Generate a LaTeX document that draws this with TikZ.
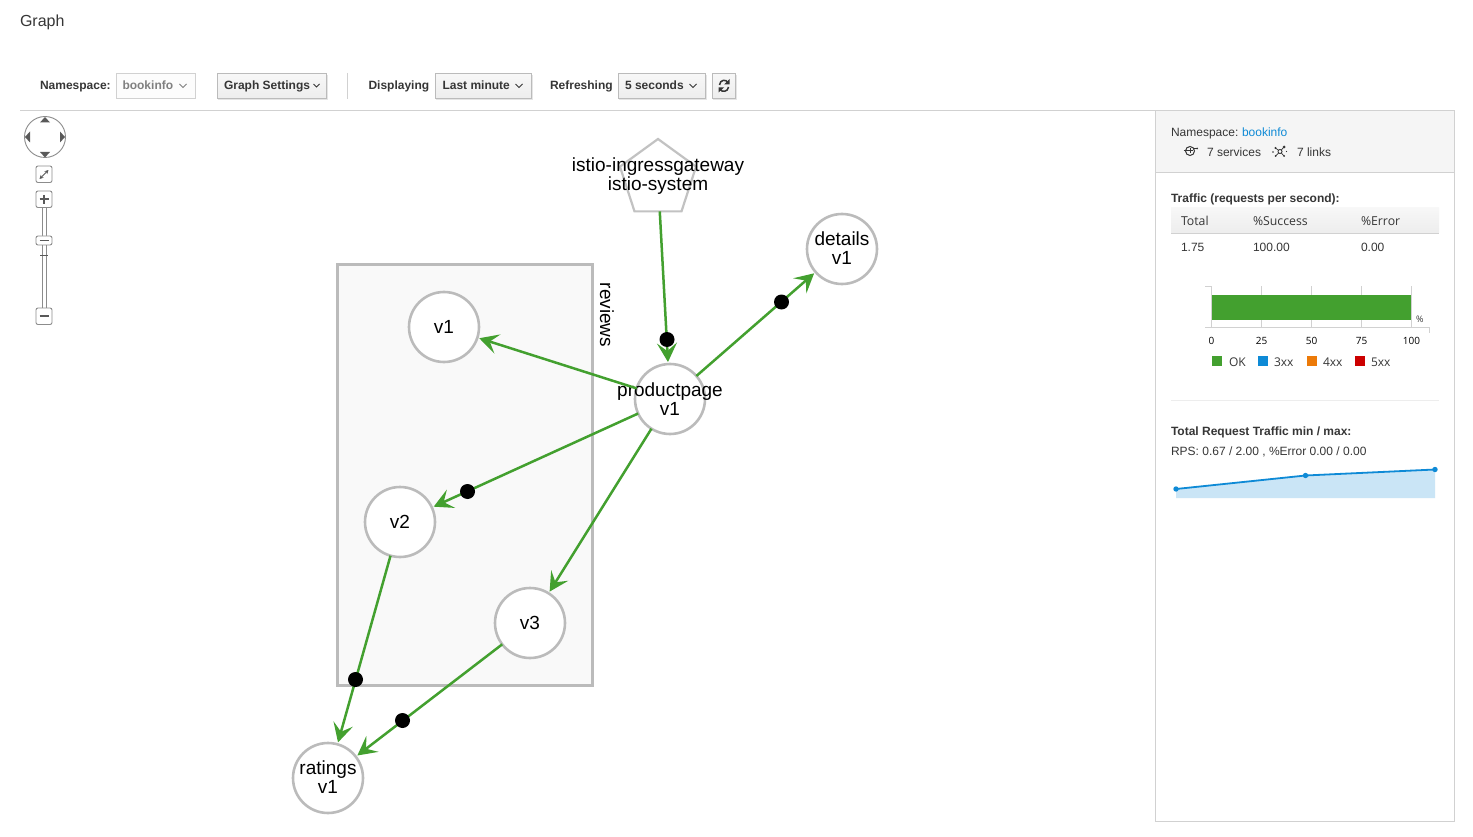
\documentclass[tikz,border=0pt]{standalone}
\usepackage{fontspec}
\setmainfont{Liberation Sans}
\newfontfamily\opensans{Open Sans}
\usetikzlibrary{shapes.geometric,arrows.meta,calc}
\definecolor{edgegreen}{HTML}{43A02F}
\definecolor{barblue}{HTML}{0E8AD6}
\definecolor{lineg}{HTML}{D1D1D1}
\definecolor{nodeg}{HTML}{BBBBBB}
\definecolor{txt}{HTML}{363636}
\definecolor{legorange}{HTML}{EC7A08}
\definecolor{legred}{HTML}{CC0000}
\tikzset{
  every node/.style={inner sep=0pt,outer sep=0pt},
  svc/.style={circle,draw=nodeg,fill=white,line width=2.6pt,minimum size=70pt},
  gatew/.style={regular polygon,regular polygon sides=5,draw=nodeg!90!white,fill=white,line width=2.2pt,minimum size=80pt},
  nlabel/.style={font=\fontsize{19}{19}\selectfont,align=center,text=black},
  flow/.style={draw=edgegreen,line width=2.5pt,shorten >=2pt,-{Stealth[length=19pt,width=20pt,inset=8pt]}},
  dot/.style={circle,fill=black,minimum size=15pt},
  groupbox/.style={rectangle,draw=nodeg,fill=black!2.5,line width=2.6pt,minimum width=255.5pt,minimum height=421.5pt},
  t/.style={anchor=base west,font=\fontsize{12}{14}\selectfont,text=txt},
  tb/.style={t,font=\fontsize{12}{14}\selectfont\bfseries},
  tos/.style={t,font=\fontsize{12.3}{14}\selectfont\opensans},
  tick/.style={anchor=base,font=\fontsize{10}{12}\selectfont\opensans,text=black},
  leg/.style={anchor=base west,font=\fontsize{12}{14}\selectfont\opensans,text=txt},
  btn/.style={draw=nodeg,line width=1pt,top color=white!97!black,bottom color=black!7},
  ctl/.style={draw=black!45,line width=0.9pt,rounded corners=2pt,fill=white},
  glyph/.style={draw=black!65,line width=1.6pt},
  chev/.style={draw=txt,line width=0.8pt}
}
\begin{document}
\begin{tikzpicture}[x=1pt,y=-1pt]
\useasboundingbox (0,0) rectangle (1473,837);
\fill[white] (0,0) rectangle (1473,837);

% title
\node[anchor=base west,font=\fontsize{16}{18}\selectfont,text=txt] (title) at (20,27) {Graph};

% toolbar
\node[tb] (nsl) at (40,90) {Namespace:};
\draw[draw=lineg,fill=black!1,line width=1pt] (116.5,73.5) rectangle (195.5,98.5);
\node[tb,text=black!50] (nsv) at (122.5,90) {bookinfo};
\draw[chev,draw=black!50] (179.5,84) -- (183,87.5) -- (186.5,84);

\fill[black!10] (218,75) rectangle (328,100.5);
\draw[btn] (217.5,73.5) rectangle (326.5,98.5);
\node[tb] (gs) at (224,90) {Graph Settings};
\draw[chev] (313.5,84) -- (316.5,87) -- (319.5,84);

\draw[lineg,line width=1pt] (347.5,73) -- (347.5,99);

\node[tb] (disp) at (368.5,90) {Displaying};
\fill[black!10] (436,75) rectangle (533,100.5);
\draw[btn] (435.5,73.5) rectangle (531.5,98.5);
\node[tb] (lm) at (442.5,90) {Last minute};
\draw[chev] (515.5,84) -- (519,87.5) -- (522.5,84);

\node[tb] (rf) at (550,90) {Refreshing};
\fill[black!10] (619,75) rectangle (707,100.5);
\draw[btn] (618.5,73.5) rectangle (705.5,98.5);
\node[tb] (fs) at (625,90) {5 seconds};
\draw[chev] (689.5,84) -- (693,87.5) -- (696.5,84);

\fill[black!10] (713,75) rectangle (737,100.5);
\draw[btn] (712.5,73.5) rectangle (735.5,98.5);
\draw[txt,line width=1.5pt] (719.5,85) .. controls (720,79.5) and (726,79) .. (728,82.5);
\fill[txt] (729.5,79) -- (729.5,84.5) -- (724,84.5) -- cycle;
\draw[txt,line width=1.5pt] (728.5,87) .. controls (728,92) and (722,92.5) .. (720,89.5);
\fill[txt] (718.5,92.5) -- (718.5,87.5) -- (724,87.5) -- cycle;

% separators
\draw[lineg,line width=1pt] (20,110.5) -- (1455,110.5);

% pan / zoom control
\draw[black!45,line width=0.9pt,fill=white] (45,137) circle[radius=20.5];
\fill[black!65] (45,117) -- (40,122.5) -- (50,122.5) -- cycle;
\fill[black!65] (45,157.5) -- (40,152) -- (50,152) -- cycle;
\fill[black!65] (25,137) -- (30,131.5) -- (30,142.5) -- cycle;
\fill[black!65] (65,137) -- (60,131.5) -- (60,142.5) -- cycle;

\draw[ctl] (36,166) rectangle (52,182.5);
\draw[glyph,line width=1pt,{Stealth[length=4pt,width=4pt]}-{Stealth[length=4pt,width=4pt]}] (39.5,179) -- (48.5,170);

\draw[black!45,line width=0.9pt] (42,207) -- (42,308) (46,207) -- (46,308);

\draw[ctl] (36,191) rectangle (52,207.5);
\draw[glyph] (39.5,199.2) -- (48.5,199.2) (44,194.8) -- (44,203.6);

\draw[ctl] (36,236) rectangle (52,245);
\draw[glyph] (39.5,240.5) -- (48.5,240.5);
\draw[glyph] (40,255.5) -- (48,255.5);

\draw[ctl] (36,308) rectangle (52,324.5);
\draw[glyph] (39.5,316) -- (48.5,316);

% graph
\node[groupbox] (reviews) at (465,475) {};
\node[anchor=center,rotate=-90,font=\fontsize{19}{19}\selectfont,text=black] (revl) at (607,315) {reviews};

\node[gatew,label={[nlabel,yshift=3pt]center:{istio-ingressgateway\\istio-system}}] (gate) at (658,179) {};
\node[svc,label={[nlabel]center:{productpage\\v1}}] (prod) at (670,399) {};
\node[svc,label={[nlabel,yshift=1pt]center:{details\\v1}}] (det) at (842,249) {};
\node[svc,label={[nlabel]center:{v1}}] (v1) at (444,327) {};
\node[svc,label={[nlabel]center:{v2}}] (v2) at (400,522) {};
\node[svc,label={[nlabel]center:{v3}}] (v3) at (530,623) {};
\node[svc,label={[nlabel,yshift=1pt]center:{ratings\\v1}}] (rat) at (328,778) {};

\draw[flow] (gate) -- (prod);
\draw[flow] (prod) -- (det);
\draw[flow] (prod) -- (v1);
\draw[flow] (prod) -- (v2);
\draw[flow] (prod) -- (v3);
\draw[flow] (v2) -- (rat);
\draw[flow] (v3) -- (rat);

\node[dot] (d1) at (667,339.5) {};
\node[dot] (d2) at (781.5,302) {};
\node[dot] (d3) at (467.5,491.5) {};
\node[dot] (d4) at (355.5,679.5) {};
\node[dot] (d5) at (402.5,720.5) {};

% side panel
\draw[lineg,line width=1pt,fill=white] (1155.5,111) rectangle (1454.5,821.5);
\draw[lineg,line width=1pt,fill=black!4] (1155.5,111) rectangle (1454.5,172.5);

\node[t] (pns) at (1171,136.5) {Namespace:};
\node[t,text=barblue] (pnb) at (1242,136.5) {bookinfo};
% services icon
\draw[txt,line width=1pt] (1190,151) circle[radius=4.5];
\draw[txt,line width=1pt] (1183.5,151) -- (1193,151) (1190,148.5) -- (1190,153.5) (1193.5,148.5) -- (1196.5,148.5);
\fill[txt] (1197,148.5) circle[radius=1];
\node[t] (psv) at (1207,156.5) {7 services};
% links icon
\draw[txt,line width=0.7pt] (1275.5,148) -- (1280,151.5) (1284,147) -- (1280,151.5) -- (1275.5,156) (1280,151.5) -- (1284,156);
\draw[txt,line width=0.9pt,fill=white] (1280,151.5) circle[radius=2];
\fill[txt] (1275.5,148) circle[radius=1.1] (1284,147) circle[radius=1.5] (1275.5,156) circle[radius=1] (1284,156) circle[radius=1] (1273,152) circle[radius=.8] (1286.5,151.5) circle[radius=.7];
\node[t] (pln) at (1297,156.5) {7 links};

\node[tb] (ptr) at (1171,202.5) {Traffic (requests per second):};
\shade[top color=white!97!black,bottom color=black!7] (1171,208) rectangle (1439,233);
\draw[lineg,line width=1.5pt] (1171,233.5) -- (1439,233.5);
\node[tos] (h1) at (1181,225.5) {Total};
\node[tos] (h2) at (1253,225.5) {\%Success};
\node[tos] (h3) at (1361,225.5) {\%Error};
\node[t] (r1) at (1181,251.5) {1.75};
\node[t] (r2) at (1253,251.5) {100.00};
\node[t] (r3) at (1361,251.5) {0.00};

% bar chart
\draw[lineg,line width=1pt] (1205,286.5) -- (1211.5,286.5) -- (1211.5,327.5);
\draw[lineg,line width=1pt] (1261.5,286) -- (1261.5,327) (1311.5,286) -- (1311.5,327) (1361.5,286) -- (1361.5,327) (1411.5,286) -- (1411.5,327);
\draw[lineg,line width=1pt] (1205,327.5) -- (1429.5,327.5) -- (1429.5,333);
\fill[edgegreen] (1212,295) rectangle (1411,320);
\node[anchor=base west,font=\fontsize{9}{10}\selectfont\opensans,text=txt] (pct) at (1416,322.5) {\%};
\node[tick] (x0) at (1211.5,344) {0};
\node[tick] (x1) at (1261.5,344) {25};
\node[tick] (x2) at (1311.5,344) {50};
\node[tick] (x3) at (1361.5,344) {75};
\node[tick] (x4) at (1411.5,344) {100};
\fill[edgegreen] (1212,356) rectangle (1222,366);
\node[leg] (lok) at (1229,366) {OK};
\fill[barblue] (1258,356) rectangle (1268,366);
\node[leg] (l3) at (1274,366) {3xx};
\fill[legorange] (1307,356) rectangle (1317,366);
\node[leg] (l4) at (1323,366) {4xx};
\fill[legred] (1355,356) rectangle (1365,366);
\node[leg] (l5) at (1371,366) {5xx};

\draw[black!7,line width=1pt] (1171,400.5) -- (1439,400.5);
\node[tb] (pt2) at (1171,435.5) {Total Request Traffic min / max:};
\node[t] (prp) at (1171,455.5) {RPS: 0.67 / 2.00 , \%Error 0.00 / 0.00};

% sparkline
\fill[barblue!22] (1176,489) -- (1305.5,475.5) -- (1435,469.5) -- (1435,498) -- (1176,498) -- cycle;
\draw[barblue,line width=1.8pt] (1176,489) -- (1305.5,475.5) -- (1435,469.5);
\fill[barblue] (1176,489) circle[radius=2.7] (1305.5,475.5) circle[radius=2.7] (1435,469.5) circle[radius=2.7];
\end{tikzpicture}
\end{document}
